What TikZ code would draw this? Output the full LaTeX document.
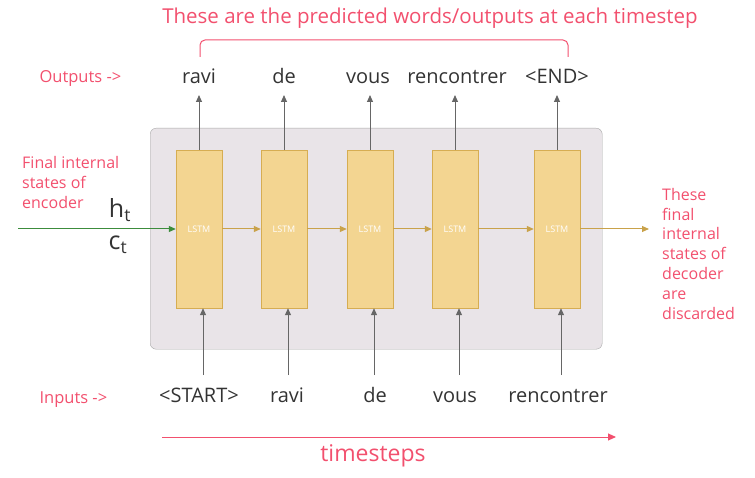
\documentclass[tikz,border=0pt]{standalone}
\usepackage{fontspec}
\setmainfont{Open Sans}
\usetikzlibrary{arrows.meta}
\definecolor{rd}{HTML}{F2506E}
\definecolor{gold}{HTML}{C9A24A}
\definecolor{lfill}{HTML}{F3D591}
\definecolor{lbord}{HTML}{D6AD52}
\definecolor{panel}{HTML}{E9E4E8}
\definecolor{txt}{HTML}{333333}
\definecolor{grn}{HTML}{3C8C3C}
\begin{document}
\begin{tikzpicture}[x=1pt,y=-1pt,
 lstm/.style={draw=lbord,fill=lfill,minimum width=46pt,minimum height=158pt,inner sep=0,font=\fontsize{9}{10}\selectfont,text=white},
 word/.style={text=txt,font=\fontsize{20}{22}\selectfont,anchor=base},
 red/.style={text=rd,font=\fontsize{16.5}{20}\selectfont},
 garr/.style={draw=gray!80!black,-{Triangle[length=7pt,width=6pt]},line width=1pt},
 oarr/.style={draw=gold,-{Triangle[length=7pt,width=6pt]},line width=1pt}]
\useasboundingbox (0,0) rectangle (755,478);
\node[draw=gray!70,fill=panel,rounded corners=6pt,minimum width=452pt,minimum height=221pt,anchor=north west] (panel) at (150,128) {};
\foreach \n/\x in {1/199,2/284,3/370,4/455,5/557}{
 \node[lstm] (l\n) at (\x,229) {LSTM};
 \draw[garr] (l\n.north) -- (\x,95);
}
\foreach \w/\x/\n in {ravi/199/1,de/284/2,vous/368/3,rencontrer/457/4,<END>/557/5}{
 \node[word] (o\n) at (\x,84) {\w};
}
\foreach \w/\x/\n in {<START>/199/1,ravi/287/2,de/375/3,vous/455/4,rencontrer/558/5}{
 \node[word] (i\n) at (\x,402) {\w};
 \coordinate (s\n) at ([xshift=4pt]l\n.south);
 \draw[garr] (s\n |- 0,375) -- (s\n);
}
\foreach \a/\b in {1/2,2/3,3/4,4/5}{\draw[oarr] (l\a.east) -- (l\b.west);}
\coordinate (outend) at (649,229);
\draw[oarr] (l5.east) -- (outend);
\coordinate (instart) at (18,229);
\draw[draw=grn,-{Triangle[length=7pt,width=6pt]},line width=1pt] (instart) -- (l1.west);
\node[text=txt,font=\fontsize{25}{26}\selectfont] (h) at (120,210) {h\textsubscript{t}};
\node[text=txt,font=\fontsize{25}{26}\selectfont] (c) at (118,245) {c\textsubscript{t}};
\node[red,font=\fontsize{20.5}{22}\selectfont] (title) at (430,18) {These are the predicted words/outputs at each timestep};
\draw[rd,line width=1pt,rounded corners=5pt] (200,57)--(200,40)--(568,40)--(568,57);
\node[red,anchor=base west] (outl) at (36,83) {Outputs ->};
\node[red,anchor=base west] (inl) at (36,403) {Inputs ->};
\node[red,anchor=north west,align=left,font=\fontsize{16}{20}\selectfont,inner sep=0] (fin) at (22,156) {Final internal\\states of\\encoder};
\node[red,anchor=north west,align=left,font=\fontsize{16}{19.8}\selectfont,inner sep=0] (dis) at (662,188) {These\\final\\internal\\states of\\decoder\\are\\discarded};
\coordinate (t1) at (162,437); \coordinate (t2) at (616,437);
\draw[rd,line width=1pt,-{Triangle[length=8pt,width=7pt]}] (t1) -- (t2);
\node[red,font=\fontsize{23}{24}\selectfont] (ts) at (373,456) {timesteps};
\end{tikzpicture}
\end{document}
